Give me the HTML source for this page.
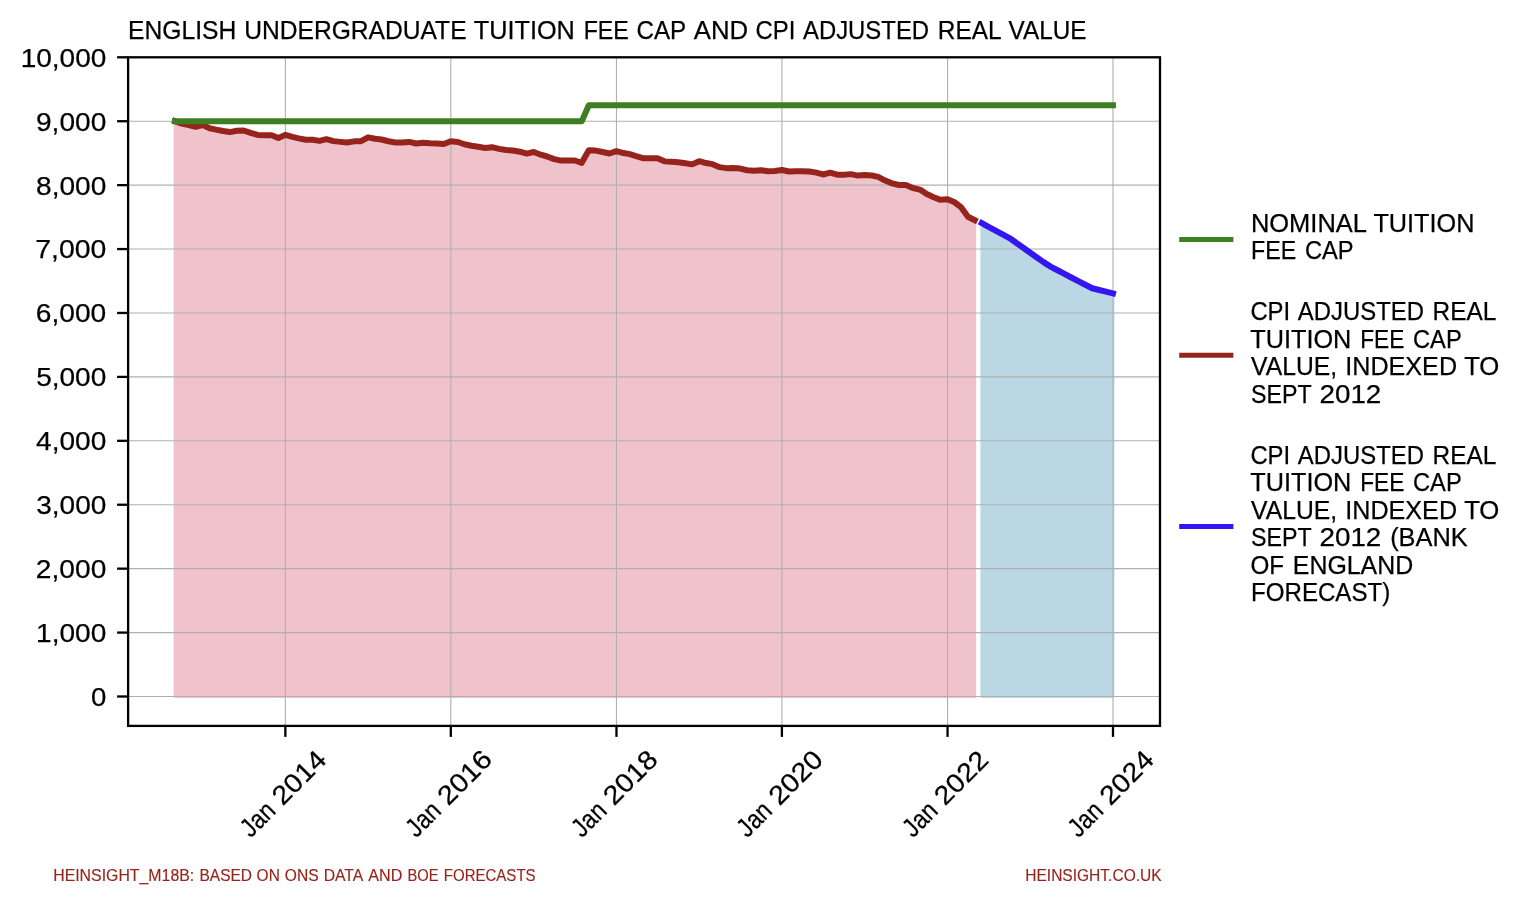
<!DOCTYPE html>
<html><head><meta charset="utf-8"><title>English undergraduate tuition fee cap</title>
<style>
html,body{margin:0;padding:0;background:#fff;}
body{width:1529px;height:904px;overflow:hidden;font-family:"Liberation Sans",sans-serif;}
svg{display:block;will-change:transform;}
text{font-family:"Liberation Sans",sans-serif;fill:#000;}
.t{font-size:26.5px;stroke:#000;stroke-width:0.25px;}
.f{font-size:16.2px;fill:#96241c;stroke:#96241c;stroke-width:0.15px;}
</style></head><body>
<svg width="1529" height="904" viewBox="0 0 1529 904">
<rect x="0" y="0" width="1529" height="904" fill="#ffffff"/>
<polygon points="175.00,696.50 175.00,121.20 181.80,123.63 188.82,125.02 195.62,126.80 202.65,125.02 209.67,128.24 216.02,129.58 223.04,131.02 229.84,132.08 236.87,130.69 243.67,130.46 250.69,132.91 257.72,134.91 264.51,135.36 271.54,135.30 278.34,138.03 285.36,134.86 292.39,136.91 298.73,138.36 305.76,139.80 312.56,139.69 319.58,140.92 326.38,139.19 333.41,141.11 340.43,141.86 347.23,142.47 354.26,141.36 361.06,141.14 368.08,137.36 375.11,138.80 381.45,139.47 388.48,141.25 395.27,142.47 402.30,142.47 409.10,141.92 416.12,143.47 423.15,142.81 429.95,143.36 436.97,143.47 443.77,144.03 450.80,141.25 457.82,142.03 464.39,144.25 471.42,145.70 478.22,146.81 485.24,147.92 492.04,147.15 499.07,148.87 506.09,150.05 512.89,150.49 519.92,151.71 526.71,153.60 533.74,152.05 540.76,154.72 547.11,156.50 554.14,159.16 560.93,160.61 567.96,160.50 574.76,160.50 581.78,162.83 588.81,150.16 595.61,150.60 602.63,152.05 609.43,153.49 616.46,151.16 623.48,153.05 629.83,154.16 636.85,156.27 643.65,158.27 650.68,158.26 657.47,158.32 664.50,161.37 671.52,161.81 678.32,162.26 685.35,163.26 692.15,164.37 699.17,161.15 706.20,163.04 712.54,164.15 719.57,167.15 726.37,168.15 733.39,168.04 740.19,168.59 747.22,170.26 754.24,170.82 761.04,170.26 768.06,171.15 774.86,171.04 781.89,170.04 788.91,171.49 795.49,171.37 802.51,171.26 809.31,171.48 816.33,172.59 823.13,174.47 830.16,172.69 837.18,174.69 843.98,174.69 851.01,174.13 857.81,175.58 864.83,175.02 871.86,175.47 878.20,176.91 885.23,180.58 892.03,183.36 899.05,185.03 905.85,184.92 912.87,188.03 919.90,189.59 926.70,194.04 933.72,197.26 940.52,199.82 947.55,199.26 954.57,202.26 960.92,207.04 967.94,216.72 974.74,220.16 974.74,696.50" fill="#f0c2cb" stroke="#f0c2cb" stroke-width="2.8" stroke-linejoin="round"/>
<polygon points="981.79,696.50 981.79,223.12 988.57,226.79 995.57,230.57 1002.58,234.31 1009.47,238.02 1016.48,242.97 1023.26,247.77 1030.26,252.70 1037.27,257.68 1043.60,262.15 1050.61,266.60 1057.50,270.27 1064.51,273.93 1071.29,277.49 1078.29,281.16 1085.30,284.72 1092.19,288.28 1099.20,290.00 1105.98,291.67 1112.98,293.39 1112.98,696.50" fill="#bad7e3" stroke="#bad7e3" stroke-width="2.8" stroke-linejoin="round"/>
<g stroke="#b0b0b0" stroke-width="1.1" fill="none">
<line x1="285.36" y1="57.3" x2="285.36" y2="725.9"/>
<line x1="450.80" y1="57.3" x2="450.80" y2="725.9"/>
<line x1="616.46" y1="57.3" x2="616.46" y2="725.9"/>
<line x1="781.89" y1="57.3" x2="781.89" y2="725.9"/>
<line x1="947.55" y1="57.3" x2="947.55" y2="725.9"/>
<line x1="1112.98" y1="57.3" x2="1112.98" y2="725.9"/>
<line x1="128.1" y1="696.50" x2="1160.0" y2="696.50"/>
<line x1="128.1" y1="632.58" x2="1160.0" y2="632.58"/>
<line x1="128.1" y1="568.66" x2="1160.0" y2="568.66"/>
<line x1="128.1" y1="504.74" x2="1160.0" y2="504.74"/>
<line x1="128.1" y1="440.82" x2="1160.0" y2="440.82"/>
<line x1="128.1" y1="376.90" x2="1160.0" y2="376.90"/>
<line x1="128.1" y1="312.98" x2="1160.0" y2="312.98"/>
<line x1="128.1" y1="249.06" x2="1160.0" y2="249.06"/>
<line x1="128.1" y1="185.14" x2="1160.0" y2="185.14"/>
<line x1="128.1" y1="121.22" x2="1160.0" y2="121.22"/>
<line x1="128.1" y1="57.30" x2="1160.0" y2="57.30"/>
</g>
<polyline points="175.00,121.20 181.80,123.63 188.82,125.02 195.62,126.80 202.65,125.02 209.67,128.24 216.02,129.58 223.04,131.02 229.84,132.08 236.87,130.69 243.67,130.46 250.69,132.91 257.72,134.91 264.51,135.36 271.54,135.30 278.34,138.03 285.36,134.86 292.39,136.91 298.73,138.36 305.76,139.80 312.56,139.69 319.58,140.92 326.38,139.19 333.41,141.11 340.43,141.86 347.23,142.47 354.26,141.36 361.06,141.14 368.08,137.36 375.11,138.80 381.45,139.47 388.48,141.25 395.27,142.47 402.30,142.47 409.10,141.92 416.12,143.47 423.15,142.81 429.95,143.36 436.97,143.47 443.77,144.03 450.80,141.25 457.82,142.03 464.39,144.25 471.42,145.70 478.22,146.81 485.24,147.92 492.04,147.15 499.07,148.87 506.09,150.05 512.89,150.49 519.92,151.71 526.71,153.60 533.74,152.05 540.76,154.72 547.11,156.50 554.14,159.16 560.93,160.61 567.96,160.50 574.76,160.50 581.78,162.83 588.81,150.16 595.61,150.60 602.63,152.05 609.43,153.49 616.46,151.16 623.48,153.05 629.83,154.16 636.85,156.27 643.65,158.27 650.68,158.26 657.47,158.32 664.50,161.37 671.52,161.81 678.32,162.26 685.35,163.26 692.15,164.37 699.17,161.15 706.20,163.04 712.54,164.15 719.57,167.15 726.37,168.15 733.39,168.04 740.19,168.59 747.22,170.26 754.24,170.82 761.04,170.26 768.06,171.15 774.86,171.04 781.89,170.04 788.91,171.49 795.49,171.37 802.51,171.26 809.31,171.48 816.33,172.59 823.13,174.47 830.16,172.69 837.18,174.69 843.98,174.69 851.01,174.13 857.81,175.58 864.83,175.02 871.86,175.47 878.20,176.91 885.23,180.58 892.03,183.36 899.05,185.03 905.85,184.92 912.87,188.03 919.90,189.59 926.70,194.04 933.72,197.26 940.52,199.82 947.55,199.26 954.57,202.26 960.92,207.04 967.94,216.72 974.74,220.16" fill="none" stroke="#96241c" stroke-width="6.0" stroke-linecap="square" stroke-linejoin="round"/>
<polyline points="175.00,121.22 181.80,121.22 188.82,121.22 195.62,121.22 202.65,121.22 209.67,121.22 216.02,121.22 223.04,121.22 229.84,121.22 236.87,121.22 243.67,121.22 250.69,121.22 257.72,121.22 264.51,121.22 271.54,121.22 278.34,121.22 285.36,121.22 292.39,121.22 298.73,121.22 305.76,121.22 312.56,121.22 319.58,121.22 326.38,121.22 333.41,121.22 340.43,121.22 347.23,121.22 354.26,121.22 361.06,121.22 368.08,121.22 375.11,121.22 381.45,121.22 388.48,121.22 395.27,121.22 402.30,121.22 409.10,121.22 416.12,121.22 423.15,121.22 429.95,121.22 436.97,121.22 443.77,121.22 450.80,121.22 457.82,121.22 464.39,121.22 471.42,121.22 478.22,121.22 485.24,121.22 492.04,121.22 499.07,121.22 506.09,121.22 512.89,121.22 519.92,121.22 526.71,121.22 533.74,121.22 540.76,121.22 547.11,121.22 554.14,121.22 560.93,121.22 567.96,121.22 574.76,121.22 581.78,121.22 588.81,105.24 595.61,105.24 602.63,105.24 609.43,105.24 616.46,105.24 623.48,105.24 629.83,105.24 636.85,105.24 643.65,105.24 650.68,105.24 657.47,105.24 664.50,105.24 671.52,105.24 678.32,105.24 685.35,105.24 692.15,105.24 699.17,105.24 706.20,105.24 712.54,105.24 719.57,105.24 726.37,105.24 733.39,105.24 740.19,105.24 747.22,105.24 754.24,105.24 761.04,105.24 768.06,105.24 774.86,105.24 781.89,105.24 788.91,105.24 795.49,105.24 802.51,105.24 809.31,105.24 816.33,105.24 823.13,105.24 830.16,105.24 837.18,105.24 843.98,105.24 851.01,105.24 857.81,105.24 864.83,105.24 871.86,105.24 878.20,105.24 885.23,105.24 892.03,105.24 899.05,105.24 905.85,105.24 912.87,105.24 919.90,105.24 926.70,105.24 933.72,105.24 940.52,105.24 947.55,105.24 954.57,105.24 960.92,105.24 967.94,105.24 974.74,105.24 981.77,105.24 988.57,105.24 995.59,105.24 1002.62,105.24 1009.41,105.24 1016.44,105.24 1023.24,105.24 1030.26,105.24 1037.29,105.24 1043.63,105.24 1050.66,105.24 1057.46,105.24 1064.48,105.24 1071.28,105.24 1078.31,105.24 1085.33,105.24 1092.13,105.24 1099.16,105.24 1105.95,105.24 1112.98,105.24" fill="none" stroke="#3f7f23" stroke-width="6.0" stroke-linecap="square" stroke-linejoin="round"/>
<polyline points="981.79,223.12 988.57,226.79 995.57,230.57 1002.58,234.31 1009.47,238.02 1016.48,242.97 1023.26,247.77 1030.26,252.70 1037.27,257.68 1043.60,262.15 1050.61,266.60 1057.50,270.27 1064.51,273.93 1071.29,277.49 1078.29,281.16 1085.30,284.72 1092.19,288.28 1099.20,290.00 1105.98,291.67 1112.98,293.39" fill="none" stroke="#3416f0" stroke-width="6.0" stroke-linecap="square" stroke-linejoin="round"/>
<g stroke="#000" stroke-width="2.3" fill="none">
<line x1="285.36" y1="725.9" x2="285.36" y2="736.90"/>
<line x1="450.80" y1="725.9" x2="450.80" y2="736.90"/>
<line x1="616.46" y1="725.9" x2="616.46" y2="736.90"/>
<line x1="781.89" y1="725.9" x2="781.89" y2="736.90"/>
<line x1="947.55" y1="725.9" x2="947.55" y2="736.90"/>
<line x1="1112.98" y1="725.9" x2="1112.98" y2="736.90"/>
<line x1="117.10" y1="696.50" x2="128.1" y2="696.50"/>
<line x1="117.10" y1="632.58" x2="128.1" y2="632.58"/>
<line x1="117.10" y1="568.66" x2="128.1" y2="568.66"/>
<line x1="117.10" y1="504.74" x2="128.1" y2="504.74"/>
<line x1="117.10" y1="440.82" x2="128.1" y2="440.82"/>
<line x1="117.10" y1="376.90" x2="128.1" y2="376.90"/>
<line x1="117.10" y1="312.98" x2="128.1" y2="312.98"/>
<line x1="117.10" y1="249.06" x2="128.1" y2="249.06"/>
<line x1="117.10" y1="185.14" x2="128.1" y2="185.14"/>
<line x1="117.10" y1="121.22" x2="128.1" y2="121.22"/>
<line x1="117.10" y1="57.30" x2="128.1" y2="57.30"/>
</g>
<rect x="128.1" y="57.3" width="1031.90" height="668.60" fill="none" stroke="#000" stroke-width="2.3"/>
<text class="t" x="127.98" y="38.90" textLength="108.33" lengthAdjust="spacingAndGlyphs">ENGLISH</text>
<text class="t" x="244.20" y="38.90" textLength="222.37" lengthAdjust="spacingAndGlyphs">UNDERGRADUATE</text>
<text class="t" x="473.80" y="38.90" textLength="101.02" lengthAdjust="spacingAndGlyphs">TUITION</text>
<text class="t" x="583.64" y="38.90" textLength="45.21" lengthAdjust="spacingAndGlyphs">FEE</text>
<text class="t" x="636.46" y="38.90" textLength="49.73" lengthAdjust="spacingAndGlyphs">CAP</text>
<text class="t" x="693.72" y="38.90" textLength="54.41" lengthAdjust="spacingAndGlyphs">AND</text>
<text class="t" x="755.53" y="38.90" textLength="39.82" lengthAdjust="spacingAndGlyphs">CPI</text>
<text class="t" x="802.94" y="38.90" textLength="126.15" lengthAdjust="spacingAndGlyphs">ADJUSTED</text>
<text class="t" x="937.75" y="38.90" textLength="63.82" lengthAdjust="spacingAndGlyphs">REAL</text>
<text class="t" x="1008.52" y="38.90" textLength="77.90" lengthAdjust="spacingAndGlyphs">VALUE</text>
<text class="t" x="90.92" y="705.90" textLength="15.36" lengthAdjust="spacingAndGlyphs">0</text>
<text class="t" x="36.06" y="641.98" textLength="70.23" lengthAdjust="spacingAndGlyphs">1,000</text>
<text class="t" x="35.88" y="578.06" textLength="70.41" lengthAdjust="spacingAndGlyphs">2,000</text>
<text class="t" x="36.23" y="514.14" textLength="70.06" lengthAdjust="spacingAndGlyphs">3,000</text>
<text class="t" x="36.06" y="450.22" textLength="70.24" lengthAdjust="spacingAndGlyphs">4,000</text>
<text class="t" x="36.18" y="386.30" textLength="70.12" lengthAdjust="spacingAndGlyphs">5,000</text>
<text class="t" x="35.87" y="322.38" textLength="70.43" lengthAdjust="spacingAndGlyphs">6,000</text>
<text class="t" x="35.24" y="258.46" textLength="71.07" lengthAdjust="spacingAndGlyphs">7,000</text>
<text class="t" x="36.08" y="194.54" textLength="70.22" lengthAdjust="spacingAndGlyphs">8,000</text>
<text class="t" x="35.98" y="130.62" textLength="70.31" lengthAdjust="spacingAndGlyphs">9,000</text>
<text class="t" x="20.67" y="66.70" textLength="85.63" lengthAdjust="spacingAndGlyphs">10,000</text>
<g transform="translate(249.66,839.60) rotate(-45)"><text class="t" x="1.66" y="0.00" textLength="37.14" lengthAdjust="spacingAndGlyphs">Jan</text><text class="t" x="46.94" y="0.00" textLength="63.77" lengthAdjust="spacingAndGlyphs">2014</text></g>
<g transform="translate(415.10,839.60) rotate(-45)"><text class="t" x="1.66" y="0.00" textLength="37.14" lengthAdjust="spacingAndGlyphs">Jan</text><text class="t" x="46.93" y="0.00" textLength="64.21" lengthAdjust="spacingAndGlyphs">2016</text></g>
<g transform="translate(580.76,839.60) rotate(-45)"><text class="t" x="1.66" y="0.00" textLength="37.14" lengthAdjust="spacingAndGlyphs">Jan</text><text class="t" x="46.93" y="0.00" textLength="64.19" lengthAdjust="spacingAndGlyphs">2018</text></g>
<g transform="translate(746.19,839.60) rotate(-45)"><text class="t" x="1.66" y="0.00" textLength="37.14" lengthAdjust="spacingAndGlyphs">Jan</text><text class="t" x="46.94" y="0.00" textLength="64.06" lengthAdjust="spacingAndGlyphs">2020</text></g>
<g transform="translate(911.85,839.60) rotate(-45)"><text class="t" x="1.66" y="0.00" textLength="37.14" lengthAdjust="spacingAndGlyphs">Jan</text><text class="t" x="46.95" y="0.00" textLength="63.34" lengthAdjust="spacingAndGlyphs">2022</text></g>
<g transform="translate(1077.28,839.60) rotate(-45)"><text class="t" x="1.66" y="0.00" textLength="37.14" lengthAdjust="spacingAndGlyphs">Jan</text><text class="t" x="46.94" y="0.00" textLength="63.77" lengthAdjust="spacingAndGlyphs">2024</text></g>
<line x1="1179.2" y1="239.4" x2="1233.4" y2="239.4" stroke="#3f7f23" stroke-width="5.0"/>
<line x1="1179.2" y1="355.2" x2="1233.4" y2="355.2" stroke="#96241c" stroke-width="5.0"/>
<line x1="1179.2" y1="526.6" x2="1233.4" y2="526.6" stroke="#3416f0" stroke-width="5.0"/>
<text class="t" x="1250.91" y="231.90" textLength="116.08" lengthAdjust="spacingAndGlyphs">NOMINAL</text>
<text class="t" x="1373.45" y="231.90" textLength="101.02" lengthAdjust="spacingAndGlyphs">TUITION</text>
<text class="t" x="1251.09" y="259.40" textLength="45.21" lengthAdjust="spacingAndGlyphs">FEE</text>
<text class="t" x="1304.93" y="259.40" textLength="48.69" lengthAdjust="spacingAndGlyphs">CAP</text>
<text class="t" x="1250.39" y="319.90" textLength="39.82" lengthAdjust="spacingAndGlyphs">CPI</text>
<text class="t" x="1297.80" y="319.90" textLength="126.15" lengthAdjust="spacingAndGlyphs">ADJUSTED</text>
<text class="t" x="1432.60" y="319.90" textLength="63.82" lengthAdjust="spacingAndGlyphs">REAL</text>
<text class="t" x="1250.33" y="347.50" textLength="101.02" lengthAdjust="spacingAndGlyphs">TUITION</text>
<text class="t" x="1360.22" y="347.50" textLength="44.16" lengthAdjust="spacingAndGlyphs">FEE</text>
<text class="t" x="1413.02" y="347.50" textLength="48.69" lengthAdjust="spacingAndGlyphs">CAP</text>
<text class="t" x="1251.09" y="375.10" textLength="85.96" lengthAdjust="spacingAndGlyphs">VALUE,</text>
<text class="t" x="1345.30" y="375.10" textLength="111.75" lengthAdjust="spacingAndGlyphs">INDEXED</text>
<text class="t" x="1464.13" y="375.10" textLength="35.26" lengthAdjust="spacingAndGlyphs">TO</text>
<text class="t" x="1250.95" y="402.70" textLength="60.62" lengthAdjust="spacingAndGlyphs">SEPT</text>
<text class="t" x="1319.48" y="402.70" textLength="61.83" lengthAdjust="spacingAndGlyphs">2012</text>
<text class="t" x="1250.39" y="463.70" textLength="39.82" lengthAdjust="spacingAndGlyphs">CPI</text>
<text class="t" x="1297.80" y="463.70" textLength="126.15" lengthAdjust="spacingAndGlyphs">ADJUSTED</text>
<text class="t" x="1432.60" y="463.70" textLength="63.82" lengthAdjust="spacingAndGlyphs">REAL</text>
<text class="t" x="1250.33" y="491.10" textLength="101.02" lengthAdjust="spacingAndGlyphs">TUITION</text>
<text class="t" x="1360.22" y="491.10" textLength="44.16" lengthAdjust="spacingAndGlyphs">FEE</text>
<text class="t" x="1413.02" y="491.10" textLength="48.69" lengthAdjust="spacingAndGlyphs">CAP</text>
<text class="t" x="1251.09" y="518.70" textLength="85.96" lengthAdjust="spacingAndGlyphs">VALUE,</text>
<text class="t" x="1345.30" y="518.70" textLength="111.75" lengthAdjust="spacingAndGlyphs">INDEXED</text>
<text class="t" x="1464.13" y="518.70" textLength="35.26" lengthAdjust="spacingAndGlyphs">TO</text>
<text class="t" x="1250.95" y="546.30" textLength="60.62" lengthAdjust="spacingAndGlyphs">SEPT</text>
<text class="t" x="1319.48" y="546.30" textLength="61.83" lengthAdjust="spacingAndGlyphs">2012</text>
<text class="t" x="1390.14" y="546.30" textLength="77.62" lengthAdjust="spacingAndGlyphs">(BANK</text>
<text class="t" x="1250.45" y="573.90" textLength="33.60" lengthAdjust="spacingAndGlyphs">OF</text>
<text class="t" x="1292.85" y="573.90" textLength="120.32" lengthAdjust="spacingAndGlyphs">ENGLAND</text>
<text class="t" x="1251.02" y="601.30" textLength="139.25" lengthAdjust="spacingAndGlyphs">FORECAST)</text>
<text class="f" x="53.20" y="881.00" textLength="141.01" lengthAdjust="spacingAndGlyphs">HEINSIGHT_M18B:</text>
<text class="f" x="199.56" y="881.00" textLength="52.47" lengthAdjust="spacingAndGlyphs">BASED</text>
<text class="f" x="256.62" y="881.00" textLength="23.19" lengthAdjust="spacingAndGlyphs">ON</text>
<text class="f" x="284.87" y="881.00" textLength="33.75" lengthAdjust="spacingAndGlyphs">ONS</text>
<text class="f" x="323.67" y="881.00" textLength="39.67" lengthAdjust="spacingAndGlyphs">DATA</text>
<text class="f" x="368.33" y="881.00" textLength="34.11" lengthAdjust="spacingAndGlyphs">AND</text>
<text class="f" x="407.52" y="881.00" textLength="31.11" lengthAdjust="spacingAndGlyphs">BOE</text>
<text class="f" x="443.83" y="881.00" textLength="91.74" lengthAdjust="spacingAndGlyphs">FORECASTS</text>
<text class="f" x="1025.23" y="881.00" textLength="136.44" lengthAdjust="spacingAndGlyphs">HEINSIGHT.CO.UK</text>
</svg>
</body></html>
